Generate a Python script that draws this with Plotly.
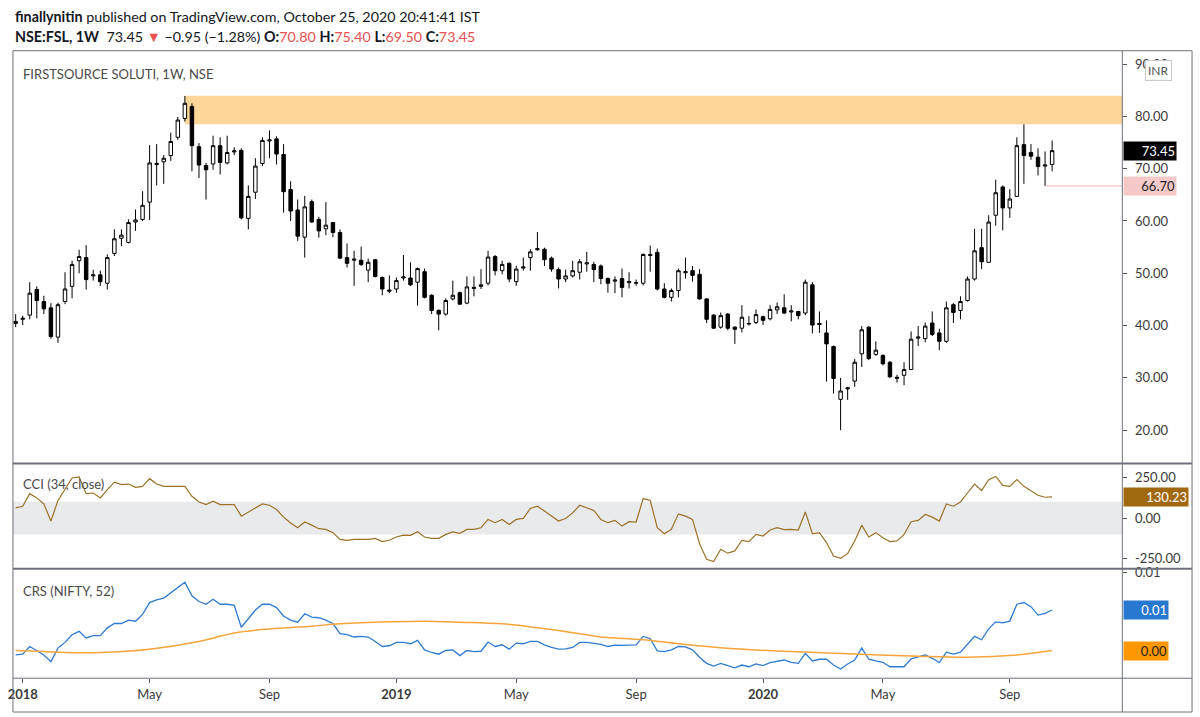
import pandas as pd
import plotly.graph_objects as go

# ---------------- data ----------------
first_week = "2017-12-25"

opens = [40.4, 41.2, 42.0, 46.9, 44.6, 43.4, 37.8, 44.6, 47.5, 52.4,
         53.0, 49.5, 49.7, 48.1, 53.8, 56.7, 55.9, 59.8, 60.3, 63.6,
         70.8, 71.3, 72.5, 76.0, 79.6, 81.9, 74.2, 70.6, 70.9, 74.4,
         71.1, 73.2, 73.5, 60.5, 65.5, 71.0, 75.3, 75.7, 72.7, 66.0,
         62.1, 56.9, 63.7, 60.3, 58.5, 59.7, 57.8, 53.0, 52.5, 52.5,
         50.6, 52.6, 49.2, 46.8, 47.0, 49.1, 49.1, 48.3, 50.3, 45.8,
         42.9, 42.2, 45.1, 46.3, 44.3, 47.1, 47.5, 48.1, 53.2, 50.5,
         51.9, 48.4, 51.0, 53.0, 54.5, 54.6, 52.9, 50.7, 48.9, 49.5,
         50.2, 51.8, 51.7, 51.4, 49.0, 48.5, 49.0, 48.2, 48.1, 48.1,
         53.4, 54.0, 47.0, 45.4, 46.7, 50.1, 50.5, 49.8, 45.1, 42.0,
         39.7, 42.2, 39.7, 39.5, 40.3, 40.6, 41.7, 41.3, 43.0, 43.4,
         42.6, 42.7, 42.4, 47.8, 40.2, 38.6, 36.0, 25.9, 27.9, 29.4,
         34.6, 39.7, 34.5, 34.3, 33.0, 29.9, 30.5, 31.6, 37.6, 37.5,
         40.5, 38.6, 37.0, 44.0, 42.9, 44.8, 48.9, 54.9, 52.1, 61.1,
         66.5, 62.5, 64.7, 74.6, 73.1, 72.2, 70.5, 70.8]

highs = [42.2, 41.9, 48.3, 47.5, 45.7, 44.3, 44.4, 50.2, 52.4, 54.5,
         55.4, 50.7, 50.5, 53.6, 58.4, 58.4, 60.3, 62.2, 65.7, 74.5,
         74.7, 72.6, 76.9, 79.9, 83.9, 82.5, 74.9, 71.1, 76.3, 76.0,
         76.3, 74.1, 73.9, 66.8, 72.0, 76.0, 77.3, 76.2, 74.7, 67.6,
         64.1, 64.8, 64.1, 60.8, 63.6, 59.8, 58.4, 55.7, 54.3, 55.1,
         52.8, 52.7, 49.4, 49.6, 49.2, 53.5, 52.1, 51.1, 50.9, 46.0,
         43.1, 45.2, 48.6, 46.5, 49.4, 49.4, 50.8, 54.3, 53.5, 52.4,
         52.1, 51.4, 53.0, 54.6, 57.9, 54.9, 53.2, 51.1, 50.7, 52.4,
         52.7, 54.1, 52.2, 51.7, 49.2, 49.4, 50.9, 50.2, 48.8, 53.8,
         55.3, 54.7, 48.1, 47.1, 50.9, 53.0, 51.4, 50.8, 45.2, 42.2,
         42.5, 42.4, 39.9, 43.9, 41.8, 43.1, 41.9, 43.9, 44.4, 46.0,
         43.9, 42.8, 48.8, 48.3, 42.7, 41.0, 36.2, 30.0, 28.3, 33.6,
         39.9, 39.9, 37.0, 34.5, 33.2, 30.6, 33.0, 38.9, 39.9, 40.6,
         42.7, 39.4, 44.6, 44.3, 45.6, 49.4, 58.5, 58.5, 61.1, 67.9,
         66.8, 66.1, 76.0, 78.5, 74.7, 73.9, 73.3, 75.4]

lows = [39.7, 40.1, 41.2, 41.4, 42.2, 37.5, 36.7, 44.1, 45.2, 50.0,
        46.9, 48.6, 47.6, 46.9, 53.3, 55.2, 55.7, 58.1, 60.0, 60.2,
        66.8, 67.1, 71.5, 75.5, 79.0, 69.5, 68.2, 64.1, 69.8, 68.9,
        70.8, 72.6, 60.3, 58.4, 64.2, 70.5, 72.0, 70.8, 61.6, 60.0,
        56.2, 53.0, 59.7, 56.8, 57.3, 56.9, 52.7, 51.1, 47.6, 51.4,
        48.3, 49.2, 45.8, 46.2, 46.3, 48.6, 47.6, 43.8, 45.2, 42.2,
        39.1, 41.9, 44.8, 44.0, 44.1, 45.6, 47.0, 47.7, 49.6, 49.8,
        48.3, 47.6, 50.5, 50.5, 54.3, 51.4, 50.3, 47.1, 48.3, 49.2,
        48.8, 50.3, 48.3, 47.9, 46.3, 46.2, 45.4, 47.1, 47.6, 47.7,
        50.3, 46.7, 45.2, 44.6, 45.4, 49.0, 48.4, 45.0, 40.5, 39.4,
        39.4, 39.1, 36.5, 38.7, 40.0, 40.3, 40.1, 41.0, 42.2, 42.2,
        40.8, 41.2, 42.0, 38.5, 38.6, 29.3, 27.0, 20.0, 25.8, 28.3,
        32.1, 33.4, 34.2, 32.4, 30.0, 29.1, 28.6, 31.5, 36.1, 36.8,
        38.0, 35.3, 36.7, 40.5, 41.2, 44.6, 48.6, 50.8, 52.1, 59.1,
        58.2, 60.6, 64.6, 67.1, 71.7, 68.7, 66.7, 69.5]

closes = [40.8, 41.4, 46.2, 44.8, 43.2, 37.9, 44.0, 47.0, 51.7, 53.2,
          48.8, 49.7, 48.4, 53.0, 56.6, 57.3, 59.7, 60.2, 63.0, 71.1,
          71.0, 72.0, 75.2, 79.3, 82.5, 74.4, 70.7, 69.8, 74.4, 71.2,
          73.1, 73.4, 60.6, 64.7, 70.5, 75.4, 75.5, 72.8, 65.6, 61.9,
          57.1, 62.7, 59.8, 58.1, 59.2, 57.8, 52.9, 51.9, 52.7, 51.7,
          52.1, 49.4, 47.0, 46.6, 48.6, 49.3, 47.8, 50.9, 45.4, 42.9,
          42.2, 44.8, 45.8, 44.1, 47.4, 47.3, 47.8, 53.1, 50.5, 51.7,
          48.9, 50.8, 51.2, 54.1, 54.7, 52.6, 50.8, 48.9, 49.5, 50.5,
          52.2, 52.0, 50.7, 49.0, 48.1, 48.7, 47.3, 48.4, 48.2, 53.6,
          53.6, 47.0, 45.4, 46.7, 50.5, 50.3, 49.6, 45.1, 41.2, 39.5,
          41.9, 39.5, 39.3, 41.6, 40.4, 42.1, 41.0, 43.1, 43.6, 42.4,
          42.8, 41.9, 48.3, 40.1, 40.4, 36.5, 29.9, 27.5, 28.1, 33.0,
          39.2, 33.7, 35.3, 32.7, 30.2, 30.1, 31.6, 37.4, 37.8, 39.9,
          38.3, 37.0, 43.4, 42.5, 44.6, 48.9, 54.3, 52.2, 59.8, 65.4,
          62.5, 64.2, 74.4, 72.5, 72.4, 70.4, 70.7, 73.45]

cci = [63, 73, 150, 124, 87, -18, 108, 175, 246, 252,
       150, 154, 124, 175, 221, 205, 209, 189, 195, 242,
       209, 195, 195, 195, 195, 134, 99, 83, 104, 83,
       85, 83, 12, 38, 62, 87, 79, 53, 6, -30,
       -59, -24, -43, -65, -69, -89, -130, -136, -130, -130,
       -130, -124, -144, -136, -116, -104, -106, -83, -116, -124,
       -124, -100, -85, -93, -69, -69, -59, -8, -28, -8,
       -39, -8, -2, 59, 73, 43, 12, -18, -2, 32,
       79, 63, 47, -8, -28, -14, -49, -22, -24, 120,
       108, -59, -96, -69, 26, 12, -8, -157, -252, -266,
       -191, -215, -201, -136, -144, -100, -110, -73, -59, -71,
       -69, -73, 38, -96, -89, -150, -232, -246, -218, -140,
       -43, -116, -89, -120, -144, -140, -100, -22, -14, 22,
       6, -18, 87, 73, 99, 154, 209, 169, 236, 256,
       201, 195, 236, 195, 169, 140, 128, 130.23]

crs = [0.00221, 0.00228, 0.00301, 0.00263, 0.00221, 0.00157, 0.00286, 0.00340, 0.00413, 0.00445,
       0.00382, 0.00404, 0.00404, 0.00478, 0.00519, 0.00519, 0.00551, 0.00541, 0.00606, 0.00718,
       0.00743, 0.00760, 0.00808, 0.00856, 0.00910, 0.00782, 0.00728, 0.00702, 0.00750, 0.00702,
       0.00702, 0.00692, 0.00484, 0.00564, 0.00647, 0.00702, 0.00702, 0.00670, 0.00590, 0.00551,
       0.00532, 0.00612, 0.00580, 0.00574, 0.00551, 0.00519, 0.00423, 0.00413, 0.00391, 0.00397,
       0.00391, 0.00349, 0.00301, 0.00308, 0.00340, 0.00340, 0.00327, 0.00359, 0.00269, 0.00244,
       0.00228, 0.00263, 0.00269, 0.00215, 0.00263, 0.00253, 0.00256, 0.00343, 0.00301, 0.00317,
       0.00276, 0.00333, 0.00327, 0.00349, 0.00349, 0.00317, 0.00292, 0.00276, 0.00279, 0.00292,
       0.00340, 0.00340, 0.00333, 0.00322, 0.00301, 0.00314, 0.00311, 0.00311, 0.00317, 0.00397,
       0.00375, 0.00260, 0.00253, 0.00269, 0.00301, 0.00298, 0.00269, 0.00199, 0.00141, 0.00115,
       0.00141, 0.00119, 0.00099, 0.00125, 0.00109, 0.00135, 0.00119, 0.00148, 0.00157, 0.00173,
       0.00151, 0.00141, 0.00237, 0.00164, 0.00180, 0.00180, 0.00125, 0.00087, 0.00135, 0.00173,
       0.00286, 0.00180, 0.00164, 0.00151, 0.00109, 0.00109, 0.00109, 0.00183, 0.00199, 0.00221,
       0.00189, 0.00148, 0.00247, 0.00228, 0.00247, 0.00317, 0.00397, 0.00365, 0.00468, 0.00535,
       0.00526, 0.00542, 0.00702, 0.00718, 0.00679, 0.00599, 0.00615, 0.00647]

# CRS moving average, read at a number of bars (1-based bar numbers)
crs_ma_bar = [1, 5, 8, 13, 20, 27, 32, 37, 43, 47, 54, 59, 64, 70, 75, 81, 84,
              90, 95, 103, 111, 119, 128, 136, 143, 148]
crs_ma = [0.00263, 0.00253, 0.00244, 0.00244, 0.00276, 0.00349, 0.00430, 0.00468,
          0.00494, 0.00516, 0.00535, 0.00541, 0.00532, 0.00516, 0.00478, 0.00423,
          0.00391, 0.00365, 0.00327, 0.00279, 0.00253, 0.00231, 0.00212, 0.00199,
          0.00221, 0.00263]

zone_low, zone_high = 78.48, 83.94
support_level = 66.70

price_ticks = [20, 30, 40, 50, 60, 70, 80, 90]
cci_ticks = [-250, 0, 250]
cci_tick_text = ["-250.00", "0.00", "250.00"]
crs_ticks = [0.01]
crs_tick_text = ["0.01"]

time_tick_dates = ["2018-01-01", "2018-05-07", "2018-09-03", "2019-01-07", "2019-05-06",
                   "2019-09-02", "2020-01-06", "2020-05-04", "2020-09-07"]
time_tick_text = ["<b>2018</b>", "May", "Sep", "<b>2019</b>", "May", "Sep",
                  "<b>2020</b>", "May", "Sep"]

# ---------------- layout helpers ----------------
W, H = 1200, 717
def px(x):
    return x / W
def py(y):
    return 1 - y / H

dates = pd.date_range(first_week, periods=len(closes), freq="7D")
ma_dates = [dates[i - 1] for i in crs_ma_bar]
x_start = dates[0] - pd.Timedelta(days=2.67)
x_end = dates[0] + pd.Timedelta(days=1098.7)

FONT = "Lato"
AX_FONT = dict(family=FONT, size=13, color="#3b3b3b")

fig = go.Figure()

fig.add_trace(go.Candlestick(
    x=dates, open=opens, high=highs, low=lows, close=closes,
    increasing=dict(line=dict(color="#000000", width=1), fillcolor="#ffffff"),
    decreasing=dict(line=dict(color="#000000", width=1), fillcolor="#000000"),
    whiskerwidth=0, xaxis="x", yaxis="y", hoverinfo="skip", showlegend=False))

fig.add_trace(go.Scatter(x=dates, y=cci, mode="lines",
                         line=dict(color="#9b7229", width=1.2),
                         xaxis="x2", yaxis="y2", hoverinfo="skip", showlegend=False))

fig.add_trace(go.Scatter(x=dates, y=crs, mode="lines",
                         line=dict(color="#2f7bd2", width=1.3),
                         xaxis="x3", yaxis="y3", hoverinfo="skip", showlegend=False))

fig.add_trace(go.Scatter(x=ma_dates, y=crs_ma, mode="lines",
                         line=dict(color="#f7a43b", width=1.5, shape="spline", smoothing=1.0),
                         xaxis="x3", yaxis="y3", hoverinfo="skip", showlegend=False))

xcommon = dict(type="date", range=[x_start, x_end], showgrid=False, zeroline=False,
               showline=False, fixedrange=True, domain=[px(8), px(1122)])

ycommon = dict(side="right", showgrid=False, zeroline=False, showline=False,
               ticks="outside", ticklen=4, tickcolor="#555555", tickfont=AX_FONT,
               fixedrange=True, ticklabelstandoff=5)

fig.update_layout(
    width=W, height=H, autosize=False,
    margin=dict(l=0, r=0, t=0, b=0),
    paper_bgcolor="#ffffff", plot_bgcolor="#ffffff",
    font=dict(family=FONT),
    showlegend=False,
    xaxis=dict(**xcommon, anchor="y", showticklabels=False,
               rangeslider=dict(visible=False)),
    xaxis2=dict(**xcommon, anchor="y2", matches="x", showticklabels=False),
    xaxis3=dict(**xcommon, anchor="y3", matches="x", showticklabels=True,
                tickmode="array", tickvals=time_tick_dates, ticktext=time_tick_text,
                ticks="outside", ticklen=4, tickcolor="#555555", tickfont=AX_FONT),
    yaxis=dict(**ycommon, anchor="x", domain=[py(462), py(49)], range=[13.65, 92.17],
               tickmode="array", tickvals=price_ticks,
               ticktext=["%.2f" % v for v in price_ticks]),
    yaxis2=dict(**ycommon, anchor="x2", domain=[py(568), py(462)], range=[-311, 335.4],
                tickmode="array", tickvals=cci_ticks, ticktext=cci_tick_text),
    yaxis3=dict(**ycommon, anchor="x3", domain=[py(678), py(568)], range=[0, 0.01038],
                tickmode="array", tickvals=crs_ticks, ticktext=crs_tick_text),
)

FRAME = "#6e717b"
shapes = [
    # resistance zone
    dict(type="rect", xref="x", yref="y", x0=dates[24], x1=x_end, y0=zone_low, y1=zone_high,
         fillcolor="#ffd699", line=dict(width=0), layer="below"),
    # support line
    dict(type="line", xref="x", yref="y", x0=dates[146], x1=x_end, y0=support_level,
         y1=support_level, line=dict(color="#f2b3b3", width=1)),
    # CCI band
    dict(type="rect", xref="paper", yref="y2", x0=px(8), x1=px(1122), y0=-100, y1=100,
         fillcolor="#e9eaec", line=dict(width=0), layer="below"),
    # frame
    dict(type="rect", xref="paper", yref="paper", x0=px(8), x1=px(1192), y0=py(712), y1=py(47),
         line=dict(color=FRAME, width=1)),
    # pane separators
    dict(type="line", xref="paper", yref="paper", x0=px(8), x1=px(1192), y0=py(462), y1=py(462),
         line=dict(color=FRAME, width=2)),
    dict(type="line", xref="paper", yref="paper", x0=px(8), x1=px(1192), y0=py(568), y1=py(568),
         line=dict(color=FRAME, width=2)),
    dict(type="line", xref="paper", yref="paper", x0=px(8), x1=px(1192), y0=py(678), y1=py(678),
         line=dict(color=FRAME, width=1)),
    # price scale border
    dict(type="line", xref="paper", yref="paper", x0=px(1122), x1=px(1122), y0=py(712), y1=py(47),
         line=dict(color=FRAME, width=1)),
]
fig.update_layout(shapes=shapes)

RED = "#e9504f"
hdr1 = "<b>finallynitin</b> published on TradingView.com, October 25, 2020 20:41:41 IST"
hdr2 = ("<b>NSE:FSL, 1W</b>&nbsp; 73.45 <span style='color:%s'>▼</span> −0.95 (−1.28%%) "
        "<b>O:</b><span style='color:%s'>70.80</span> <b>H:</b><span style='color:%s'>75.40</span> "
        "<b>L:</b><span style='color:%s'>69.50</span> <b>C:</b><span style='color:%s'>73.45</span>"
        % (RED, RED, RED, RED, RED))

ann = [
    dict(text=hdr1, x=px(8), y=py(13), xref="paper", yref="paper", xanchor="left",
         yanchor="middle", showarrow=False, font=dict(family=FONT, size=14.3, color="#131722")),
    dict(text=hdr2, x=px(8), y=py(33), xref="paper", yref="paper", xanchor="left",
         yanchor="middle", showarrow=False, font=dict(family=FONT, size=14.3, color="#131722")),
    dict(text="FIRSTSOURCE SOLUTI, 1W, NSE", x=px(16), y=py(70), xref="paper", yref="paper",
         xanchor="left", yanchor="middle", showarrow=False,
         font=dict(family=FONT, size=13, color="#4a4a4a")),
    dict(text="CCI (34, close)", x=px(16), y=py(483), xref="paper", yref="paper",
         xanchor="left", yanchor="middle", showarrow=False,
         font=dict(family=FONT, size=13, color="#4a4a4a")),
    dict(text="CRS (NIFTY, 52)", x=px(16), y=py(590), xref="paper", yref="paper",
         xanchor="left", yanchor="middle", showarrow=False,
         font=dict(family=FONT, size=13, color="#4a4a4a")),
    dict(text="INR", x=px(1158), y=py(67), xref="paper", yref="paper", xanchor="center",
         yanchor="middle", showarrow=False, bgcolor="#ffffff", bordercolor="#c9c9c9",
         borderwidth=1, borderpad=2, font=dict(family=FONT, size=12, color="#555555")),
]

def value_box(text, yref, yval, bg, fg, width):
    return dict(text=text, x=px(1123), y=yval, xref="paper", yref=yref, xanchor="left",
                yanchor="middle", showarrow=False, bgcolor=bg, borderpad=1, width=width,
                height=16, align="right", font=dict(family=FONT, size=13, color=fg))

ann += [
    value_box("%.2f" % closes[-1], "y", closes[-1], "#000000", "#ffffff", 50),
    value_box("%.2f" % support_level, "y", support_level, "#f6c9c9", "#222222", 50),
    value_box("%.2f" % cci[-1], "y2", cci[-1], "#a0690f", "#ffffff", 62),
    value_box("%.2f" % crs[-1], "y3", crs[-1], "#2878d0", "#ffffff", 42),
    value_box("%.2f" % crs_ma[-1], "y3", crs_ma[-1], "#ff9800", "#222222", 42),
]
fig.update_layout(annotations=ann)

fig.write_html("out.html", config={"displayModeBar": False},
               post_script="document.body.style.margin='0';document.body.style.overflow='hidden';")
